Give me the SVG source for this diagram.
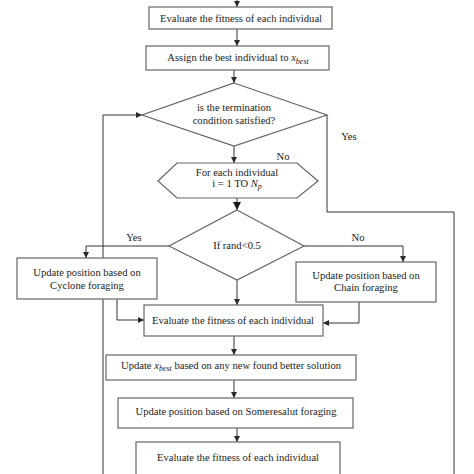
<svg xmlns="http://www.w3.org/2000/svg" width="474" height="474" viewBox="0 0 474 474">
<defs>
<marker id="ah" markerUnits="userSpaceOnUse" markerWidth="7" markerHeight="6" refX="6" refY="3" orient="auto">
<path d="M0,0 L6,3 L0,6 z" fill="#2a2a2a"/>
</marker>
<marker id="ahb" markerUnits="userSpaceOnUse" markerWidth="9" markerHeight="8" refX="8" refY="4" orient="auto">
<path d="M0,0 L8,4 L0,8 z" fill="#1a1a1a"/>
</marker>
</defs>
<style>
.box{fill:#fff;stroke:#666;stroke-width:1.2}
.ln{fill:none;stroke:#333;stroke-width:1}
.t{font-family:"Liberation Serif","Times New Roman",serif;font-size:10.6px;fill:#222;text-anchor:middle}
.lab{font-family:"Liberation Serif","Times New Roman",serif;font-size:10.6px;fill:#222;text-anchor:middle}
</style>
<rect width="474" height="474" fill="#fff"/>
<g id="connectors">
<path class="ln" d="M237,0 V7" marker-end="url(#ah)"/>
<path class="ln" d="M237,29 V46" marker-end="url(#ah)"/>
<path class="ln" d="M234,70 V83" marker-end="url(#ah)"/>
<path class="ln" d="M234,146 V163" marker-end="url(#ah)"/>
<path class="ln" d="M237,198 V210" stroke-width="2" marker-end="url(#ahb)"/>
<path class="ln" d="M169,246 H86 V258" marker-end="url(#ah)"/>
<path class="ln" d="M304,246 H403 V262" marker-end="url(#ah)"/>
<path class="ln" d="M237,280 V305" marker-end="url(#ah)"/>
<path class="ln" d="M117,299 V320 H144" marker-end="url(#ah)"/>
<path class="ln" d="M359,302 V323 H323" marker-end="url(#ah)"/>
<path class="ln" d="M234,336 V355" marker-end="url(#ah)"/>
<path class="ln" d="M234,380 V398" marker-end="url(#ah)"/>
<path class="ln" d="M237,428 V442" marker-end="url(#ah)"/>
<path class="ln" d="M103,480 V115 H142" marker-end="url(#ah)"/>
<path class="ln" d="M327,115 V212 H454 V480"/>
<text class="lab" x="349" y="140">Yes</text>
<text class="lab" x="283" y="160">No</text>
<text class="lab" x="134" y="241">Yes</text>
<text class="lab" x="358" y="241">No</text>
</g>
<g id="eval1">
<rect class="box" x="149" y="7" width="183" height="22"/>
<text class="t" x="241" y="21.5">Evaluate the fitness of each individual</text>
</g>
<g id="assign">
<rect class="box" x="146" y="46" width="183" height="24"/>
<text class="t" x="238" y="61">Assign the best individual to <tspan font-style="italic">x</tspan><tspan font-style="italic" font-size="8" dy="2.5">best</tspan></text>
</g>
<g id="termination">
<polygon class="box" points="234,83 327,115 234,146 142,115"/>
<text class="t" x="234" y="111">is the termination</text>
<text class="t" x="234" y="123.5">condition satisfied?</text>
</g>
<g id="foreach">
<polygon class="box" points="158,181 177,163 297,163 318,181 297,198 177,198"/>
<text class="t" x="237" y="175.5">For each individual</text>
<text class="t" x="237" y="187">i = 1 TO <tspan font-style="italic">N</tspan><tspan font-style="italic" font-size="8" dy="2">p</tspan></text>
</g>
<g id="rand">
<polygon class="box" points="237,210 304,246 237,280 169,246"/>
<text class="t" x="237" y="249">If rand&lt;0.5</text>
</g>
<g id="cyclone">
<rect class="box" x="17" y="258" width="140" height="41"/>
<text class="t" x="87" y="275.5">Update position based on</text>
<text class="t" x="87" y="288.5">Cyclone foraging</text>
</g>
<g id="chain">
<rect class="box" x="296" y="262" width="140" height="40"/>
<text class="t" x="366" y="278.5">Update position based on</text>
<text class="t" x="366" y="291">Chain foraging</text>
</g>
<g id="eval2">
<rect class="box" x="144" y="305" width="179" height="31"/>
<text class="t" x="233" y="323.5">Evaluate the fitness of each individual</text>
</g>
<g id="updatebest">
<rect class="box" x="106" y="355" width="250" height="25"/>
<text class="t" x="231" y="368.5">Update <tspan font-style="italic">x</tspan><tspan font-style="italic" font-size="8" dy="2.5">best</tspan><tspan dy="-2.5"> based on any new found better solution</tspan></text>
</g>
<g id="somersalut">
<rect class="box" x="118" y="398" width="235" height="30"/>
<text class="t" x="236" y="415">Update position based on Someresalut foraging</text>
</g>
<g id="eval3">
<rect class="box" x="136" y="442" width="204" height="40"/>
<text class="t" x="238" y="460.5">Evaluate the fitness of each individual</text>
</g>
</svg>
